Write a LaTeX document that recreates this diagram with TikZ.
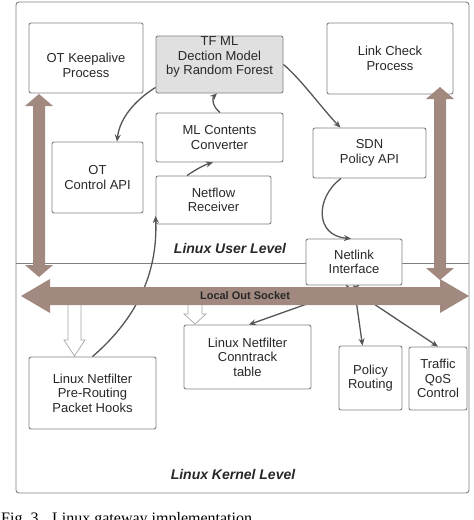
\documentclass[tikz,border=0pt]{standalone}
\usepackage{fontspec}
\setmainfont{Liberation Sans}
\newfontfamily\capfont{Liberation Serif}
\usetikzlibrary{arrows.meta,calc}
\definecolor{brownarrow}{RGB}{161,137,128}
\definecolor{boxline}{RGB}{128,128,128}
\definecolor{txt}{RGB}{40,40,40}
\definecolor{connc}{RGB}{85,85,85}
\definecolor{tffill}{RGB}{224,224,224}
\definecolor{hollowc}{RGB}{165,165,165}
\begin{document}
\begin{tikzpicture}[x=1pt,y=-1pt,
 box/.style={draw=boxline, line width=0.9pt, rounded corners=2pt, fill=white, align=center, text=txt, font=\fontsize{13}{14.5}\selectfont, inner sep=0pt},
 conn/.style={draw=connc, line width=1.3pt, -{Stealth[length=7pt,width=6pt]}},
 big/.style={fill=brownarrow, draw=none},
 hollowarrow/.style={fill=white, draw=hollowc, line width=0.7pt},
 level/.style={font=\fontsize{14}{16}\selectfont\bfseries\itshape, text=txt},
 frame/.style={draw=boxline, line width=0.9pt}]
\useasboundingbox (0,0) rectangle (474,520);
% frame
\draw[frame, rounded corners=3pt] (16,263) -- (16,2) -- (469,2) -- (469,263);
\draw[frame] (16,263) -- (469,263);
\draw[frame, rounded corners=3pt] (16,263) -- (16,493) -- (469,493) -- (469,263);
% boxes
\node[box, minimum width=114pt, minimum height=70pt] (keep) at (86,58) {\rule{0pt}{24pt}OT Keepalive\\Process};
\node[box, fill=tffill, minimum width=127pt, minimum height=57pt] (tfml) at (219.5,64.5) {TF ML\\Dection Model\\by Random Forest\rule[-17pt]{0pt}{0pt}};
\node[box, minimum width=126pt, minimum height=71pt] (link) at (390,58.5) {Link Check\\Process};
\node[box, minimum width=127pt, minimum height=49pt] (mlconv) at (219.5,137.5) {ML Contents\\Converter};
\node[box, minimum width=91pt, minimum height=71pt] (otapi) at (97.5,177.5) {OT\\Control API};
\node[box, minimum width=115pt, minimum height=48pt] (netflow) at (213.5,200) {Netflow\\Receiver};
\node[box, minimum width=113pt, minimum height=50pt] (sdn) at (369.5,153) {SDN\\Policy API};
\node[box, minimum width=127pt, minimum height=64pt] (conntrack) at (247.5,357) {Linux Netfilter\\Conntrack\\table};
\node[box, minimum width=127pt, minimum height=72pt] (prerouting) at (92.5,393) {Linux Netfilter\\Pre-Routing\\Packet Hooks};
\node[box, minimum width=63pt, minimum height=64pt] (policy) at (370.5,378) {Policy\\Routing};
\node[box, minimum width=58pt, minimum height=63pt] (qos) at (438,378.5) {Traffic\\QoS\\Control};
\node[box, minimum width=96pt, minimum height=46pt] (netlink) at (354,262) {Netlink\\Interface};
% connectors
\draw[conn] ([xshift=5pt]netlink.south) -- ([xshift=1.5pt]conntrack.north);
\draw[conn] (netlink.south) -- ([xshift=-8pt]policy.north);
\draw[conn] ([xshift=-8pt]netlink.south) -- (qos.north);
\draw[conn] ([yshift=6pt]tfml.south west) .. controls (140,97) and (120,115) .. ([xshift=19.5pt]otapi.north);
\draw[conn] ([xshift=0.5pt]mlconv.north) .. controls (212,106) and (212,98) .. ([xshift=-2.5pt]tfml.south);
\draw[conn] ([xshift=-26.5pt]netflow.north) .. controls (195,170) and (204,165) .. ([xshift=-6.5pt]mlconv.south);
\draw[conn] (prerouting.north) .. controls (135,320) and (158,275) .. ([yshift=-16pt]netflow.west);
\draw[conn] (tfml.east) .. controls (300,78) and (325,112) .. ([xshift=-29pt]sdn.north);
\draw[conn] ([xshift=-28.5pt]sdn.south) .. controls (315,198) and (315,236) .. ([xshift=-3pt]netlink.north);
% hollow arrows
\filldraw[hollowarrow] (68,305) -- (68,340) -- (64,340) -- (74.5,356) -- (85,340) -- (81,340) -- (81,305);
\filldraw[hollowarrow] (188,305) -- (188,314) -- (184,314) -- (195,324) -- (206,314) -- (202,314) -- (202,305);
% big brown arrows
\fill[big] (39,94) -- (53,106) -- (45,106) -- (45,265) -- (53,265) -- (39,277) -- (25,265) -- (33,265) -- (33,106) -- (25,106) -- cycle;
\fill[big] (440,87) -- (454,99) -- (446,99) -- (446,268) -- (454,268) -- (440,280) -- (426,268) -- (434,268) -- (434,99) -- (426,99) -- cycle;
\fill[big] (21,296) -- (50,279) -- (50,287) -- (440,287) -- (440,279) -- (469,296) -- (440,313) -- (440,305) -- (50,305) -- (50,313) -- cycle;
% labels
\node[font=\fontsize{11}{13}\selectfont\bfseries, text=txt] (sock) at (245,296) {Local Out Socket};
\node[level] (userlbl) at (230,248) {Linux User Level};
\node[level] (kernlbl) at (233,474) {Linux Kernel Level};
\node[anchor=north west, inner sep=0pt, font=\capfont\fontsize{16}{18}\selectfont, text=black] (cap) at (1,512) {Fig.~3.\hspace{0.6em}Linux gateway implementation};
\end{tikzpicture}
\end{document}
